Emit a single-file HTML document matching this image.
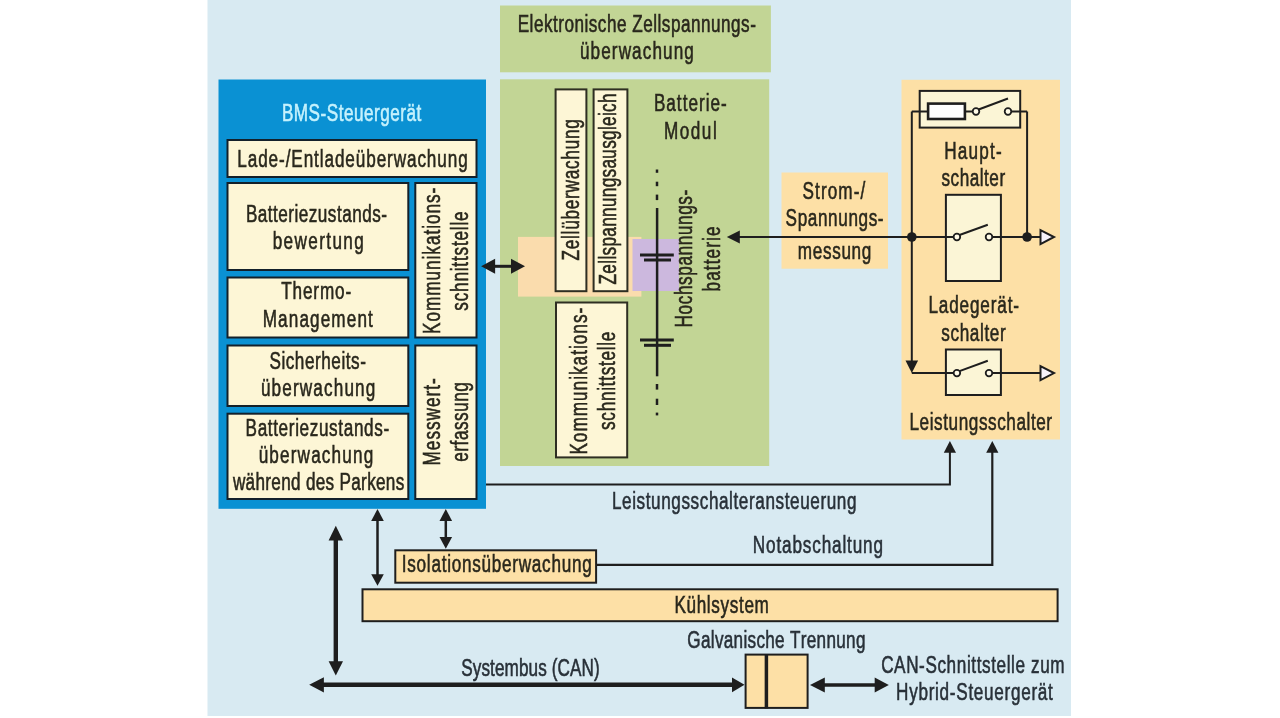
<!DOCTYPE html>
<html><head><meta charset="utf-8"><style>
html,body{margin:0;padding:0;background:#fff;width:1280px;height:718px;overflow:hidden}
svg{display:block;will-change:transform}
text{font-family:"Liberation Sans",sans-serif;font-kerning:none;font-feature-settings:"kern" 0,"liga" 0;}
</style></head><body>
<svg width="1280" height="718" viewBox="0 0 1280 718">
<rect width="1280" height="718" fill="#ffffff"/>
<rect x="207.50" y="0.00" width="863.50" height="716.00" fill="#d8eaf2"/>
<rect x="500.00" y="5.50" width="270.90" height="66.80" fill="#c2d595"/>
<rect x="500.00" y="79.30" width="269.20" height="386.70" fill="#c2d595"/>
<rect x="218.50" y="79.50" width="267.50" height="429.30" fill="#0a91d3"/>
<rect x="901.50" y="79.80" width="158.50" height="359.70" fill="#fde0a6"/>
<rect x="781.50" y="172.50" width="106.50" height="96.20" fill="#fde0a6"/>
<rect x="227.50" y="140.00" width="249.00" height="37.00" fill="#fdf6d6" stroke="#13202a" stroke-width="2"/>
<rect x="227.50" y="183.00" width="180.80" height="87.00" fill="#fdf6d6" stroke="#13202a" stroke-width="2"/>
<rect x="415.30" y="183.00" width="61.20" height="154.50" fill="#fdf6d6" stroke="#13202a" stroke-width="2"/>
<rect x="227.50" y="277.50" width="180.80" height="60.00" fill="#fdf6d6" stroke="#13202a" stroke-width="2"/>
<rect x="227.50" y="345.50" width="180.80" height="60.50" fill="#fdf6d6" stroke="#13202a" stroke-width="2"/>
<rect x="227.50" y="413.70" width="180.80" height="85.30" fill="#fdf6d6" stroke="#13202a" stroke-width="2"/>
<rect x="415.30" y="345.50" width="61.20" height="153.50" fill="#fdf6d6" stroke="#13202a" stroke-width="2"/>
<rect x="518.00" y="236.90" width="123.40" height="59.70" fill="#fadcad"/>
<rect x="632.50" y="239.00" width="46.50" height="52.00" fill="#ccb8de"/>
<rect x="555.60" y="89.40" width="30.80" height="201.80" fill="#fdf6d6" stroke="#2e2e22" stroke-width="2"/>
<rect x="593.60" y="89.40" width="33.80" height="201.80" fill="#fdf6d6" stroke="#2e2e22" stroke-width="2"/>
<rect x="556.00" y="302.50" width="71.20" height="154.90" fill="#fdf6d6" stroke="#2e2e22" stroke-width="2"/>
<path d="M657.10 208.00 L657.10 376.30" fill="none" stroke="#1e1e1e" stroke-width="2.5"/>
<path d="M657.00 169.50 L657.00 172.80" fill="none" stroke="#1e1e1e" stroke-width="2.5"/>
<path d="M657.00 181.70 L657.00 186.20" fill="none" stroke="#1e1e1e" stroke-width="2.5"/>
<path d="M657.00 194.60 L657.00 200.10" fill="none" stroke="#1e1e1e" stroke-width="2.5"/>
<path d="M657.00 384.00 L657.00 389.60" fill="none" stroke="#1e1e1e" stroke-width="2.5"/>
<path d="M657.00 398.70 L657.00 405.00" fill="none" stroke="#1e1e1e" stroke-width="2.5"/>
<path d="M657.00 412.60 L657.00 415.40" fill="none" stroke="#1e1e1e" stroke-width="2.5"/>
<path d="M640.00 254.90 L673.80 254.90" fill="none" stroke="#1e1e1e" stroke-width="3"/>
<path d="M644.00 260.00 L671.00 260.00" fill="none" stroke="#1e1e1e" stroke-width="3"/>
<path d="M640.00 340.00 L673.80 340.00" fill="none" stroke="#1e1e1e" stroke-width="3"/>
<path d="M644.00 345.30 L671.00 345.30" fill="none" stroke="#1e1e1e" stroke-width="3"/>
<path d="M490.00 266.30 L516.00 266.30" fill="none" stroke="#1e1e1e" stroke-width="3"/>
<path d="M481.10 266.30 L495.10 258.80 L495.10 273.80Z" fill="#1e1e1e"/>
<path d="M525.00 266.30 L511.00 258.80 L511.00 273.80Z" fill="#1e1e1e"/>
<path d="M738.00 237.00 L1040.50 237.00" fill="none" stroke="#1e1e1e" stroke-width="2.2"/>
<path d="M726.80 237.00 L739.80 230.50 L739.80 243.50Z" fill="#1e1e1e"/>
<rect x="919.70" y="90.90" width="100.50" height="36.70" fill="#fbf5d6" stroke="#1e1e1e" stroke-width="2"/>
<path d="M911.80 111.50 L927.70 111.50" fill="none" stroke="#1e1e1e" stroke-width="2"/>
<rect x="928.10" y="103.60" width="36.80" height="15.40" fill="#ffffff" stroke="#1e1e1e" stroke-width="2.6"/>
<path d="M965.20 111.50 L972.70 111.50" fill="none" stroke="#1e1e1e" stroke-width="2"/>
<path d="M1011.30 111.50 L1027.10 111.50" fill="none" stroke="#1e1e1e" stroke-width="2"/>
<circle cx="976" cy="111.5" r="3.3" fill="#fffbe8" stroke="#1e1e1e" stroke-width="1.8"/>
<circle cx="1008" cy="111.5" r="3.3" fill="#fffbe8" stroke="#1e1e1e" stroke-width="1.8"/>
<path d="M978.60 109.50 L1008.00 98.50" fill="none" stroke="#1e1e1e" stroke-width="2"/>
<path d="M911.80 111.50 L911.80 365.00" fill="none" stroke="#1e1e1e" stroke-width="2"/>
<path d="M1027.10 111.50 L1027.10 237.00" fill="none" stroke="#1e1e1e" stroke-width="2"/>
<rect x="945.90" y="194.80" width="55.00" height="86.20" fill="#fbf5d6" stroke="#1e1e1e" stroke-width="2"/>
<path d="M911.80 237.00 L953.60 237.00" fill="none" stroke="#1e1e1e" stroke-width="2.2"/>
<path d="M992.30 237.00 L1040.50 237.00" fill="none" stroke="#1e1e1e" stroke-width="2.2"/>
<circle cx="956.9" cy="237.0" r="3.3" fill="#fffbe8" stroke="#1e1e1e" stroke-width="1.8"/>
<circle cx="989" cy="237.0" r="3.3" fill="#fffbe8" stroke="#1e1e1e" stroke-width="1.8"/>
<path d="M959.50 235.00 L987.80 224.80" fill="none" stroke="#1e1e1e" stroke-width="2"/>
<circle cx="911.8" cy="237.0" r="4.8" fill="#1e1e1e"/>
<circle cx="1027.1" cy="237.0" r="4.8" fill="#1e1e1e"/>
<path d="M1040.50 230.20 L1054.00 237.00 L1040.50 244.20Z" fill="#f6f2fb" stroke="#1e1e1e" stroke-width="2" stroke-linejoin="miter"/>
<rect x="945.90" y="349.50" width="55.00" height="45.50" fill="#fbf5d6" stroke="#1e1e1e" stroke-width="2"/>
<path d="M911.80 373.10 L953.60 373.10" fill="none" stroke="#1e1e1e" stroke-width="2"/>
<path d="M992.30 373.10 L1040.50 373.10" fill="none" stroke="#1e1e1e" stroke-width="2"/>
<circle cx="956.9" cy="373.1" r="3.3" fill="#fffbe8" stroke="#1e1e1e" stroke-width="1.8"/>
<circle cx="989" cy="373.1" r="3.3" fill="#fffbe8" stroke="#1e1e1e" stroke-width="1.8"/>
<path d="M959.50 371.10 L987.80 360.70" fill="none" stroke="#1e1e1e" stroke-width="2"/>
<path d="M1040.50 366.10 L1054.00 373.10 L1040.50 380.10Z" fill="#f6f2fb" stroke="#1e1e1e" stroke-width="2" stroke-linejoin="miter"/>
<path d="M911.80 373.10 L905.50 360.60 L918.10 360.60Z" fill="#1e1e1e"/>
<path d="M486.00 484.50 L949.90 484.50 L949.90 450.00" fill="none" stroke="#1e1e1e" stroke-width="2"/>
<path d="M949.90 441.00 L943.80 452.70 L956.00 452.70Z" fill="#1e1e1e"/>
<path d="M597.00 564.80 L992.30 564.80 L992.30 450.00" fill="none" stroke="#1e1e1e" stroke-width="2.2"/>
<path d="M992.30 441.00 L986.20 452.70 L998.40 452.70Z" fill="#1e1e1e"/>
<path d="M377.50 518.00 L377.50 576.00" fill="none" stroke="#1e1e1e" stroke-width="2.5"/>
<path d="M377.50 509.00 L371.20 521.00 L383.80 521.00Z" fill="#1e1e1e"/>
<path d="M377.50 585.70 L371.20 574.20 L383.80 574.20Z" fill="#1e1e1e"/>
<path d="M445.80 518.00 L445.80 540.00" fill="none" stroke="#1e1e1e" stroke-width="2.5"/>
<path d="M445.80 509.00 L439.50 521.00 L452.10 521.00Z" fill="#1e1e1e"/>
<path d="M445.80 548.70 L439.50 537.00 L452.10 537.00Z" fill="#1e1e1e"/>
<rect x="395.30" y="550.30" width="200.80" height="32.40" fill="#fde0a6" stroke="#1e1e1e" stroke-width="2"/>
<rect x="362.50" y="589.30" width="695.10" height="31.90" fill="#fde0a6" stroke="#1e1e1e" stroke-width="2"/>
<path d="M335.80 538.00 L335.80 663.00" fill="none" stroke="#1e1e1e" stroke-width="4.4"/>
<path d="M335.80 525.80 L328.60 540.40 L343.00 540.40Z" fill="#1e1e1e"/>
<path d="M335.80 675.60 L328.60 661.20 L343.00 661.20Z" fill="#1e1e1e"/>
<path d="M322.00 684.80 L734.00 684.80" fill="none" stroke="#1e1e1e" stroke-width="4.4"/>
<path d="M309.20 684.80 L323.90 677.20 L323.90 692.40Z" fill="#1e1e1e"/>
<path d="M744.50 684.80 L732.00 677.40 L732.00 692.20Z" fill="#1e1e1e"/>
<rect x="745.60" y="654.60" width="62.00" height="53.30" fill="#fde0a6" stroke="#1e1e1e" stroke-width="2"/>
<path d="M766.40 654.00 L766.40 708.50" fill="none" stroke="#1e1e1e" stroke-width="3.5"/>
<path d="M822.00 685.00 L877.00 685.00" fill="none" stroke="#1e1e1e" stroke-width="3.5"/>
<path d="M810.00 685.00 L824.80 677.60 L824.80 692.40Z" fill="#1e1e1e"/>
<path d="M888.80 685.00 L874.70 677.60 L874.70 692.40Z" fill="#1e1e1e"/>
<text transform="translate(281.89 120.50) scale(0.7000 1)" font-size="24.5" letter-spacing="0.728" fill="#c6f2fd" stroke="#c6f2fd" stroke-width="0.6">BMS-Steuergerät</text>
<text transform="translate(237.29 166.70) scale(0.7000 1)" font-size="24.5" letter-spacing="1.295" fill="#29271c" stroke="#29271c" stroke-width="0.6">Lade-/Entladeüberwachung</text>
<text transform="translate(245.89 222.40) scale(0.7000 1)" font-size="24.5" letter-spacing="0.689" fill="#29271c" stroke="#29271c" stroke-width="0.6">Batteriezustands-</text>
<text transform="translate(272.69 249.30) scale(0.7000 1)" font-size="24.5" letter-spacing="1.986" fill="#29271c" stroke="#29271c" stroke-width="0.6">bewertung</text>
<text transform="translate(281.21 299.30) scale(0.7000 1)" font-size="24.5" letter-spacing="1.250" fill="#29271c" stroke="#29271c" stroke-width="0.6">Thermo-</text>
<text transform="translate(262.69 326.70) scale(0.7000 1)" font-size="24.5" letter-spacing="1.608" fill="#29271c" stroke="#29271c" stroke-width="0.6">Management</text>
<text transform="translate(269.42 369.40) scale(0.7000 1)" font-size="24.5" letter-spacing="0.778" fill="#29271c" stroke="#29271c" stroke-width="0.6">Sicherheits-</text>
<text transform="translate(260.94 396.30) scale(0.7000 1)" font-size="24.5" letter-spacing="1.642" fill="#29271c" stroke="#29271c" stroke-width="0.6">überwachung</text>
<text transform="translate(245.59 435.90) scale(0.7000 1)" font-size="24.5" letter-spacing="0.912" fill="#29271c" stroke="#29271c" stroke-width="0.6">Batteriezustands-</text>
<text transform="translate(258.64 462.60) scale(0.7000 1)" font-size="24.5" letter-spacing="1.671" fill="#29271c" stroke="#29271c" stroke-width="0.6">überwachung</text>
<text transform="translate(232.93 490.00) scale(0.7000 1)" font-size="24.5" letter-spacing="0.446" fill="#29271c" stroke="#29271c" stroke-width="0.6">während des Parkens</text>
<text transform="translate(440.30 334.01) rotate(-90) scale(0.7000 1)" font-size="24.5" letter-spacing="1.427" fill="#29271c" stroke="#29271c" stroke-width="0.6">Kommunikations-</text>
<text transform="translate(468.20 310.68) rotate(-90) scale(0.7000 1)" font-size="24.5" letter-spacing="1.159" fill="#29271c" stroke="#29271c" stroke-width="0.6">schnittstelle</text>
<text transform="translate(439.80 465.41) rotate(-90) scale(0.7000 1)" font-size="24.5" letter-spacing="1.444" fill="#29271c" stroke="#29271c" stroke-width="0.6">Messwert-</text>
<text transform="translate(468.20 461.73) rotate(-90) scale(0.7000 1)" font-size="24.5" letter-spacing="0.771" fill="#29271c" stroke="#29271c" stroke-width="0.6">erfassung</text>
<text transform="translate(517.69 32.40) scale(0.7000 1)" font-size="24.5" letter-spacing="0.709" fill="#29271c" stroke="#29271c" stroke-width="0.6">Elektronische Zellspannungs-</text>
<text transform="translate(579.94 59.30) scale(0.7000 1)" font-size="24.5" letter-spacing="1.571" fill="#29271c" stroke="#29271c" stroke-width="0.6">überwachung</text>
<text transform="translate(653.89 111.00) scale(0.7000 1)" font-size="24.5" letter-spacing="1.438" fill="#29271c" stroke="#29271c" stroke-width="0.6">Batterie-</text>
<text transform="translate(663.89 138.50) scale(0.7000 1)" font-size="24.5" letter-spacing="2.194" fill="#29271c" stroke="#29271c" stroke-width="0.6">Modul</text>
<text transform="translate(579.30 260.54) rotate(-90) scale(0.7000 1)" font-size="24.5" letter-spacing="1.106" fill="#29271c" stroke="#29271c" stroke-width="0.6">Zellüberwachung</text>
<text transform="translate(615.60 284.44) rotate(-90) scale(0.7000 1)" font-size="24.5" letter-spacing="0.486" fill="#29271c" stroke="#29271c" stroke-width="0.6">Zellspannungsausgleich</text>
<text transform="translate(587.30 454.61) rotate(-90) scale(0.7000 1)" font-size="24.5" letter-spacing="1.478" fill="#29271c" stroke="#29271c" stroke-width="0.6">Kommunikations-</text>
<text transform="translate(614.60 429.98) rotate(-90) scale(0.7000 1)" font-size="24.5" letter-spacing="1.052" fill="#29271c" stroke="#29271c" stroke-width="0.6">schnittstelle</text>
<text transform="translate(692.00 327.41) rotate(-90) scale(0.7000 1)" font-size="24.5" letter-spacing="0.891" fill="#29271c" stroke="#29271c" stroke-width="0.6">Hochspannungs-</text>
<text transform="translate(719.90 291.41) rotate(-90) scale(0.7000 1)" font-size="24.5" letter-spacing="1.585" fill="#29271c" stroke="#29271c" stroke-width="0.6">batterie</text>
<text transform="translate(802.52 198.60) scale(0.7000 1)" font-size="24.5" letter-spacing="1.563" fill="#29271c" stroke="#29271c" stroke-width="0.6">Strom-/</text>
<text transform="translate(785.62 225.50) scale(0.7000 1)" font-size="24.5" letter-spacing="0.881" fill="#29271c" stroke="#29271c" stroke-width="0.6">Spannungs-</text>
<text transform="translate(797.76 258.70) scale(0.7000 1)" font-size="24.5" letter-spacing="0.966" fill="#29271c" stroke="#29271c" stroke-width="0.6">messung</text>
<text transform="translate(944.19 158.80) scale(0.7000 1)" font-size="24.5" letter-spacing="1.741" fill="#29271c" stroke="#29271c" stroke-width="0.6">Haupt-</text>
<text transform="translate(941.52 186.10) scale(0.7000 1)" font-size="24.5" letter-spacing="0.737" fill="#29271c" stroke="#29271c" stroke-width="0.6">schalter</text>
<text transform="translate(928.39 313.40) scale(0.7000 1)" font-size="24.5" letter-spacing="1.241" fill="#29271c" stroke="#29271c" stroke-width="0.6">Ladegerät-</text>
<text transform="translate(941.32 340.80) scale(0.7000 1)" font-size="24.5" letter-spacing="0.900" fill="#29271c" stroke="#29271c" stroke-width="0.6">schalter</text>
<text transform="translate(909.49 430.10) scale(0.7000 1)" font-size="24.5" letter-spacing="0.824" fill="#29271c" stroke="#29271c" stroke-width="0.6">Leistungsschalter</text>
<text transform="translate(611.89 508.80) scale(0.7000 1)" font-size="24.5" letter-spacing="0.846" fill="#283038" stroke="#283038" stroke-width="0.6">Leistungsschalteransteuerung</text>
<text transform="translate(752.79 553.30) scale(0.7000 1)" font-size="24.5" letter-spacing="1.223" fill="#283038" stroke="#283038" stroke-width="0.6">Notabschaltung</text>
<text transform="translate(401.82 571.80) scale(0.7000 1)" font-size="24.5" letter-spacing="1.047" fill="#29271c" stroke="#29271c" stroke-width="0.6">Isolationsüberwachung</text>
<text transform="translate(674.39 612.50) scale(0.7000 1)" font-size="24.5" letter-spacing="0.936" fill="#29271c" stroke="#29271c" stroke-width="0.6">Kühlsystem</text>
<text transform="translate(687.34 647.90) scale(0.7000 1)" font-size="24.5" letter-spacing="0.430" fill="#283038" stroke="#283038" stroke-width="0.6">Galvanische Trennung</text>
<text transform="translate(461.22 676.30) scale(0.7000 1)" font-size="24.5" letter-spacing="0.145" fill="#283038" stroke="#283038" stroke-width="0.6">Systembus (CAN)</text>
<text transform="translate(881.13 673.10) scale(0.7000 1)" font-size="24.5" letter-spacing="0.861" fill="#283038" stroke="#283038" stroke-width="0.6">CAN-Schnittstelle zum</text>
<text transform="translate(896.09 699.50) scale(0.7000 1)" font-size="24.5" letter-spacing="1.012" fill="#283038" stroke="#283038" stroke-width="0.6">Hybrid-Steuergerät</text>
</svg></body></html>
